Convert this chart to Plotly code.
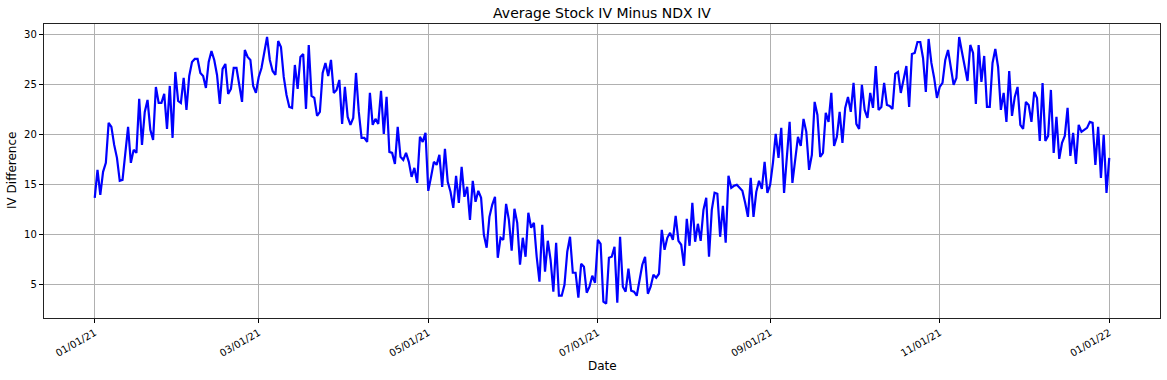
import pandas as pd
import plotly.graph_objects as go

# Daily values, 2021-01-01 .. 2022-01-01
jan_feb = [13.7, 16.5, 14.0, 16.3, 17.2, 21.2, 20.8, 19.0, 17.7, 15.4,
           15.5, 18.0, 20.8, 17.2, 18.5, 18.2, 23.6, 19.0, 22.3, 23.5,
           20.5, 19.5, 24.8, 23.2, 23.2, 24.1, 20.6, 24.9, 19.7, 26.3,
           23.4, 23.2, 25.7, 22.5, 25.9, 27.3, 27.6, 27.6, 26.2, 25.9,
           24.7, 27.3, 28.4, 27.5, 26.0, 23.1, 26.6, 27.1, 24.1, 24.6,
           26.7, 26.7, 25.2, 23.3, 28.5, 27.8, 27.5, 24.9, 24.2]
mar_apr = [25.8, 26.7, 28.2, 29.8, 27.5, 26.4, 26.0, 29.4, 28.8, 25.8,
           24.0, 22.8, 22.7, 27.0, 24.6, 27.8, 28.1, 22.6, 29.0, 23.9,
           23.7, 21.9, 22.3, 26.2, 27.2, 25.9, 27.5, 24.2, 24.5, 25.5,
           21.1, 24.8, 21.8, 21.0, 21.7, 26.2, 22.3, 19.7, 19.7, 19.3,
           24.2, 21.0, 21.6, 21.1, 24.4, 20.1, 23.8, 18.3, 18.2, 17.1,
           20.8, 17.8, 17.5, 18.2, 17.3, 15.8, 16.7, 15.2, 19.8, 19.3,
           20.2]
may_jun = [14.4, 15.8, 17.3, 17.0, 18.0, 14.8, 18.6, 15.3, 14.3, 12.7,
           15.9, 13.2, 16.8, 13.8, 14.8, 11.5, 15.4, 13.3, 14.4, 13.7,
           10.0, 8.7, 11.8, 13.0, 13.8, 7.7, 9.7, 9.5, 13.1, 11.5,
           8.4, 12.6, 11.2, 7.0, 9.7, 7.8, 12.2, 10.7, 11.2, 7.8,
           5.3, 11.0, 6.3, 9.4, 7.5, 4.3, 9.2, 3.9, 3.9, 5.0,
           8.3, 9.8, 6.2, 6.2, 3.7, 7.1, 6.8, 4.2, 4.8, 5.9,
           5.2]
jul_aug = [9.5, 9.1, 3.3, 3.1, 7.7, 7.8, 8.8, 3.2, 9.8, 4.8,
           4.3, 6.6, 4.4, 4.3, 3.9, 5.5, 7.0, 7.8, 4.1, 4.8,
           6.0, 5.7, 6.1, 10.5, 8.5, 9.7, 10.2, 9.5, 11.9, 9.4,
           9.0, 6.9, 11.6, 8.9, 13.2, 9.3, 11.1, 9.4, 12.5, 13.7,
           7.8, 12.5, 14.2, 14.1, 9.8, 12.9, 9.2, 15.9, 14.7, 14.9,
           15.0, 14.7, 14.4, 13.2, 11.8, 15.7, 11.8, 14.3, 15.4, 14.6,
           17.3, 14.2]
sep_oct = [15.0, 17.2, 20.1, 17.7, 20.7, 14.2, 17.8, 21.3, 15.2, 17.8,
           19.8, 18.9, 21.6, 20.3, 16.5, 18.0, 23.3, 22.0, 17.8, 18.2,
           22.2, 21.3, 24.2, 18.9, 19.8, 22.3, 19.2, 22.7, 23.8, 22.3,
           25.2, 21.1, 20.6, 25.0, 22.5, 21.7, 24.2, 22.7, 26.9, 22.5,
           22.8, 25.2, 23.0, 22.9, 22.6, 26.1, 26.3, 24.2, 25.7, 26.9,
           22.8, 28.1, 28.2, 29.3, 29.3, 27.7, 24.3, 29.6, 27.2, 25.7,
           23.7]
nov_dec = [24.8, 25.2, 27.5, 28.5, 26.5, 25.0, 25.7, 29.8, 28.3, 26.8,
           25.4, 29.0, 28.2, 23.1, 29.0, 25.3, 27.9, 22.8, 22.8, 27.2,
           28.6, 26.8, 22.5, 24.2, 21.3, 26.4, 21.9, 23.8, 24.8, 21.0,
           20.6, 23.3, 23.0, 21.3, 24.3, 23.7, 19.4, 25.2, 19.4, 19.9,
           24.5, 18.2, 21.8, 17.6, 19.2, 19.9, 22.7, 17.9, 20.2, 17.1,
           21.0, 20.3, 20.5, 20.7, 21.3, 21.2, 17.0, 20.8, 15.7, 20.0,
           14.2, 17.7]

values = jan_feb + mar_apr + may_jun + jul_aug + sep_oct + nov_dec
dates = pd.date_range("2021-01-01", periods=len(values), freq="D")

x_ticks = ["2021-01-01", "2021-03-01", "2021-05-01", "2021-07-01",
           "2021-09-01", "2021-11-01", "2022-01-01"]
y_ticks = [5, 10, 15, 20, 25, 30]

FONT = "DejaVu Sans"
W, H = 1167, 380
ML, MR, MT, MB = 44, 7, 24, 62

fig = go.Figure()
fig.add_trace(go.Scatter(x=dates, y=values, mode="lines",
                         line=dict(color="#0000ff", width=2.2),
                         hoverinfo="skip"))

x_start = pd.Timestamp("2021-01-01") - pd.Timedelta(hours=18.25 * 24)
x_end = pd.Timestamp("2022-01-01") + pd.Timedelta(hours=18.25 * 24)

h_plot = H - MT - MB
w_plot = W - ML - MR

fig.update_layout(
    width=W, height=H, autosize=False,
    margin=dict(l=ML, r=MR, t=MT, b=MB, pad=0, autoexpand=False),
    paper_bgcolor="white", plot_bgcolor="white",
    showlegend=False,
    font=dict(family=FONT, size=10, color="black"),
    title=dict(text="Average Stock IV Minus NDX IV",
               font=dict(family=FONT, size=14, color="black"),
               x=0.5, xref="paper", y=1 - 13 / H, yref="container",
               xanchor="center", yanchor="middle", automargin=False),
    xaxis=dict(
        type="date", range=[x_start, x_end], automargin=False,
        tickvals=x_ticks, tickformat="%m/%d/%y", tickangle=-30,
        ticks="outside", ticklen=4, tickcolor="black", tickwidth=1,
        showgrid=True, gridcolor="#b0b0b0", gridwidth=1,
        showline=True, linecolor="#222222", linewidth=1.2, mirror=True,
        zeroline=False,
        tickfont=dict(family=FONT, size=10, color="black"),
    ),
    yaxis=dict(
        range=[1.67, 31.1], automargin=False,
        tickvals=y_ticks,
        ticks="outside", ticklen=4, tickcolor="black", tickwidth=1,
        showgrid=True, gridcolor="#b0b0b0", gridwidth=1,
        showline=True, linecolor="#222222", linewidth=1.2, mirror=True,
        zeroline=False,
        tickfont=dict(family=FONT, size=10, color="black"),
    ),
    annotations=[
        dict(text="Date", x=0.5, xref="paper",
             y=(H - MB - 366) / h_plot, yref="paper",
             yanchor="middle", xanchor="center",
             showarrow=False, font=dict(family=FONT, size=12, color="black")),
        dict(text="IV Difference", x=(12 - ML) / w_plot, xref="paper",
             y=0.5, yref="paper", textangle=-90,
             xanchor="center", yanchor="middle",
             showarrow=False, font=dict(family=FONT, size=12, color="black")),
    ],
)

fig.write_html(
    "out.html",
    config={"displayModeBar": False, "staticPlot": True},
    post_script="document.body.style.margin='0';document.body.style.padding='0';"
                "document.documentElement.style.overflow='hidden';",
)
